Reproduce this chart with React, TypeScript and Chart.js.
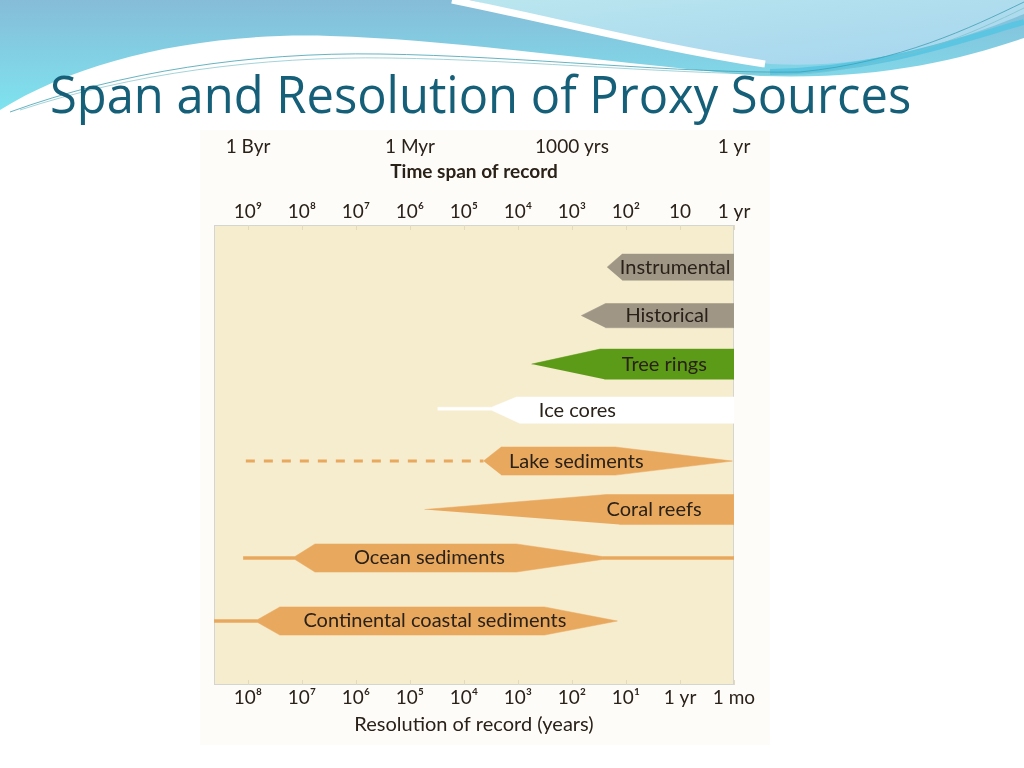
import { useEffect, useRef } from 'react';
import { Chart, registerables } from 'chart.js';

Chart.register(...registerables);

// x runs in decades: 0 = 10^9 yr span ... 9 = 1 yr span
const spanTicks = [0, 1, 2, 3, 4, 5, 6, 7, 8, 9];
const spanLabels = ['10⁹', '10⁸', '10⁷', '10⁶', '10⁵', '10⁴', '10³', '10²', '10', '1 yr'];
const namedSpanTicks = [0, 3, 6, 9];
const namedSpanLabels = ['1 Byr', '1 Myr', '1000 yrs', '1 yr'];
const resolutionLabels = ['10⁸', '10⁷', '10⁶', '10⁵', '10⁴', '10³', '10²', '10¹', '1 yr', '1 mo'];

const proxyNames = [
  'Instrumental',
  'Historical',
  'Tree rings',
  'Ice cores',
  'Lake sediments',
  'Coral reefs',
  'Ocean sediments',
  'Continental coastal sediments',
];
const proxyRows = [0, 1, 2, 2.95, 4, 5, 6, 7.3];
const proxyColors = ['#9f9686', '#9f9686', '#5c9b17', '#ffffff', '#e8a85e', '#e8a85e', '#e8a85e', '#e8a85e'];
const proxyLabelAt = [7.91, 7.76, 7.71, 6.1, 6.08, 7.52, 3.36, 3.46];

// outlines as [decade, offset from the row]
const instrumentalOutline = [[6.65, 0], [6.93, -0.27], [9, -0.27], [9, 0.27], [6.93, 0.27]];
const historicalOutline = [[6.17, 0], [6.62, -0.25], [9, -0.25], [9, 0.25], [6.62, 0.25]];
const treeRingsOutline = [[5.25, 0], [6.52, -0.31], [9, -0.31], [9, 0.31], [6.6, 0.31]];
const iceCoresOutline = [[3.51, -0.06], [4.51, -0.06], [4.97, -0.27], [9, -0.27], [9, 0.27], [5.03, 0.27], [4.51, 0], [3.51, 0]];
const lakeOutline = [[4.36, 0], [4.69, -0.29], [6.8, -0.29], [8.97, 0], [6.8, 0.29], [4.69, 0.29]];
const coralOutline = [[3.27, 0], [6.64, -0.31], [9, -0.31], [9, 0.31], [6.88, 0.31]];
const oceanOutline = [
  [-0.09, -0.03], [0.87, -0.03], [1.24, -0.29], [4.97, -0.29], [6.56, -0.03], [9, -0.03],
  [9, 0.03], [6.56, 0.03], [4.97, 0.29], [1.24, 0.29], [0.87, 0.03], [-0.09, 0.03],
];
const continentalOutline = [
  [-0.63, -0.03], [0.18, -0.03], [0.59, -0.29], [5.49, -0.29], [6.84, 0],
  [5.49, 0.29], [0.59, 0.29], [0.18, 0.03], [-0.63, 0.03],
];
const proxyOutlines = [
  instrumentalOutline, historicalOutline, treeRingsOutline, iceCoresOutline,
  lakeOutline, coralOutline, oceanOutline, continentalOutline,
];
const lakeDashed = [[-0.04, 0], [4.36, 0]];

const textColor = '#2a2118';
const fontFamily = 'Lato, "Open Sans", sans-serif';

const plotBackground = {
  id: 'plotBackground',
  beforeDraw(chart: any) {
    const { ctx, chartArea: a, scales } = chart;
    ctx.save();
    ctx.fillStyle = '#f6ecce';
    ctx.fillRect(a.left, a.top, a.width, a.height);
    ctx.strokeStyle = '#d3d6d0';
    ctx.lineWidth = 1;
    ctx.strokeRect(a.left + 0.5, a.top + 0.5, a.width - 1, a.height - 1);
    ctx.strokeStyle = '#e2d9be';
    spanTicks.forEach((t) => {
      const px = Math.round(scales.x.getPixelForValue(t)) + 0.5;
      ctx.beginPath();
      ctx.moveTo(px, a.top);
      ctx.lineTo(px, a.top + 5);
      ctx.moveTo(px, a.bottom);
      ctx.lineTo(px, a.bottom - 5);
      ctx.stroke();
    });
    ctx.restore();
  },
};

const proxyLabels = {
  id: 'proxyLabels',
  afterDatasetsDraw(chart: any) {
    const { ctx, scales } = chart;
    ctx.save();
    ctx.font = `20px ${fontFamily}`;
    ctx.fillStyle = textColor;
    ctx.textAlign = 'center';
    ctx.textBaseline = 'middle';
    proxyNames.forEach((name, i) => {
      ctx.fillText(name, scales.x.getPixelForValue(proxyLabelAt[i]), scales.y.getPixelForValue(proxyRows[i]));
    });
    ctx.restore();
  },
};

function ProxyChart() {
  const canvasRef = useRef<HTMLCanvasElement>(null);
  const chartRef = useRef<Chart | null>(null);

  useEffect(() => {
    if (!canvasRef.current) return;
    if (chartRef.current) chartRef.current.destroy();

    const tickFont = { family: fontFamily, size: 19 };
    const datasets: any[] = [
      {
        label: 'Lake sediments (sparse)',
        data: lakeDashed.map(([x, dy]) => ({ x, y: proxyRows[4] + dy })),
        showLine: true,
        fill: false,
        borderColor: proxyColors[4],
        borderWidth: 3,
        borderDash: [9, 9],
        pointRadius: 0,
      },
      ...proxyOutlines.map((outline, i) => ({
        label: proxyNames[i],
        data: outline.map(([x, dy]) => ({ x, y: proxyRows[i] + dy })),
        showLine: true,
        fill: 'shape',
        backgroundColor: proxyColors[i],
        borderColor: proxyColors[i],
        borderWidth: 0.5,
        pointRadius: 0,
        tension: 0,
      })),
    ];

    chartRef.current = new Chart(canvasRef.current, {
      type: 'scatter',
      data: { datasets },
      options: {
        responsive: true,
        maintainAspectRatio: false,
        animation: false,
        events: [],
        layout: { padding: { left: 14, right: 36, top: 0, bottom: 0 } },
        plugins: { legend: { display: false }, tooltip: { enabled: false } },
        scales: {
          x: {
            type: 'linear',
            position: 'top',
            min: -0.63,
            max: 9,
            weight: 0,
            afterBuildTicks: (s: any) => {
              s.ticks = spanTicks.map((v) => ({ value: v }));
            },
            afterFit: (s: any) => {
              s.height = 65;
            },
            ticks: {
              autoSkip: false,
              maxRotation: 0,
              padding: 2,
              color: textColor,
              font: tickFont,
              callback: (_v: any, i: number) => spanLabels[i],
            },
            grid: { display: false, drawTicks: false },
            border: { display: false },
            title: {
              display: true,
              text: 'Time span of record',
              color: textColor,
              font: { family: fontFamily, size: 19, weight: 'bold' },
              padding: { top: 0, bottom: 0 },
            },
          },
          x2: {
            type: 'linear',
            position: 'top',
            min: -0.63,
            max: 9,
            weight: 1,
            afterBuildTicks: (s: any) => {
              s.ticks = namedSpanTicks.map((v) => ({ value: v }));
            },
            afterFit: (s: any) => {
              s.height = 30;
            },
            ticks: {
              autoSkip: false,
              maxRotation: 0,
              padding: 2,
              color: textColor,
              font: tickFont,
              callback: (_v: any, i: number) => namedSpanLabels[i],
            },
            grid: { display: false, drawTicks: false },
            border: { display: false },
          },
          x3: {
            type: 'linear',
            position: 'bottom',
            min: -0.63,
            max: 9,
            afterBuildTicks: (s: any) => {
              s.ticks = spanTicks.map((v) => ({ value: v }));
            },
            afterFit: (s: any) => {
              s.height = 60;
            },
            ticks: {
              autoSkip: false,
              maxRotation: 0,
              padding: 1,
              color: textColor,
              font: tickFont,
              callback: (_v: any, i: number) => resolutionLabels[i],
            },
            grid: { display: false, drawTicks: false },
            border: { display: false },
            title: {
              display: true,
              text: 'Resolution of record (years)',
              color: textColor,
              font: { family: fontFamily, size: 20 },
              padding: { top: 0, bottom: 8 },
            },
          },
          y: {
            type: 'linear',
            reverse: true,
            min: -0.87,
            max: 8.62,
            display: false,
          },
        },
      },
      plugins: [plotBackground, proxyLabels],
    } as any);

    return () => {
      if (chartRef.current) {
        chartRef.current.destroy();
        chartRef.current = null;
      }
    };
  }, []);

  return (
    <div style={{ position: 'absolute', left: 200, top: 130, width: 570, height: 615, background: '#fdfcf9' }}>
      <canvas ref={canvasRef}></canvas>
    </div>
  );
}

function Header() {
  return (
    <svg width={1024} height={130} style={{ position: 'absolute', left: 0, top: 0 }}>
      <defs>
        <linearGradient id="blueBand" x1="0" y1="0" x2="0" y2="1">
          <stop offset="0" stopColor="#86bcd8" />
          <stop offset="1" stopColor="#7ee3ef" />
        </linearGradient>
        <linearGradient id="paleBand" x1="0" y1="0" x2="1" y2="1">
          <stop offset="0" stopColor="#b9e6ee" />
          <stop offset="1" stopColor="#a6d4ee" />
        </linearGradient>
      </defs>
      <path d="M0,0 H1024 V38 C960,60 880,80 760,76 C600,62 460,40 330,36 C200,32 80,60 0,110 Z" fill="url(#blueBand)" />
      <path d="M470,0 C570,25 680,52 770,64 C870,70 960,40 1024,14 V0 Z" fill="url(#paleBand)" />
      <path d="M452,0 C560,22 660,48 765,64" stroke="#ffffff" strokeWidth={7} fill="none" />
      <path d="M770,72 C880,70 960,40 1024,22" stroke="#5cc6e2" strokeWidth={6} fill="none" />
      <path d="M10,112 C120,72 250,52 380,54 C520,56 680,74 800,72 C900,62 970,28 1024,2" stroke="#3f9fb1" strokeWidth={0.8} fill="none" />
      <path d="M20,110 C130,74 260,56 390,58 C530,60 690,76 805,74 C905,64 975,32 1024,8" stroke="#7cc0c8" strokeWidth={0.7} fill="none" />
    </svg>
  );
}

export default function App() {
  return (
    <div style={{ position: 'absolute', left: 0, top: 0, width: 1024, height: 768, background: '#ffffff', overflow: 'hidden' }}>
      <Header />
      <div
        style={{
          position: 'absolute',
          left: 50,
          top: 67,
          fontFamily: '"Open Sans", sans-serif',
          fontSize: 52,
          lineHeight: '52px',
          color: '#155f78',
          whiteSpace: 'nowrap',
          transform: 'scaleX(0.94)',
          transformOrigin: 'left top',
        }}
      >
        Span and Resolution of Proxy Sources
      </div>
      <ProxyChart />
    </div>
  );
}
